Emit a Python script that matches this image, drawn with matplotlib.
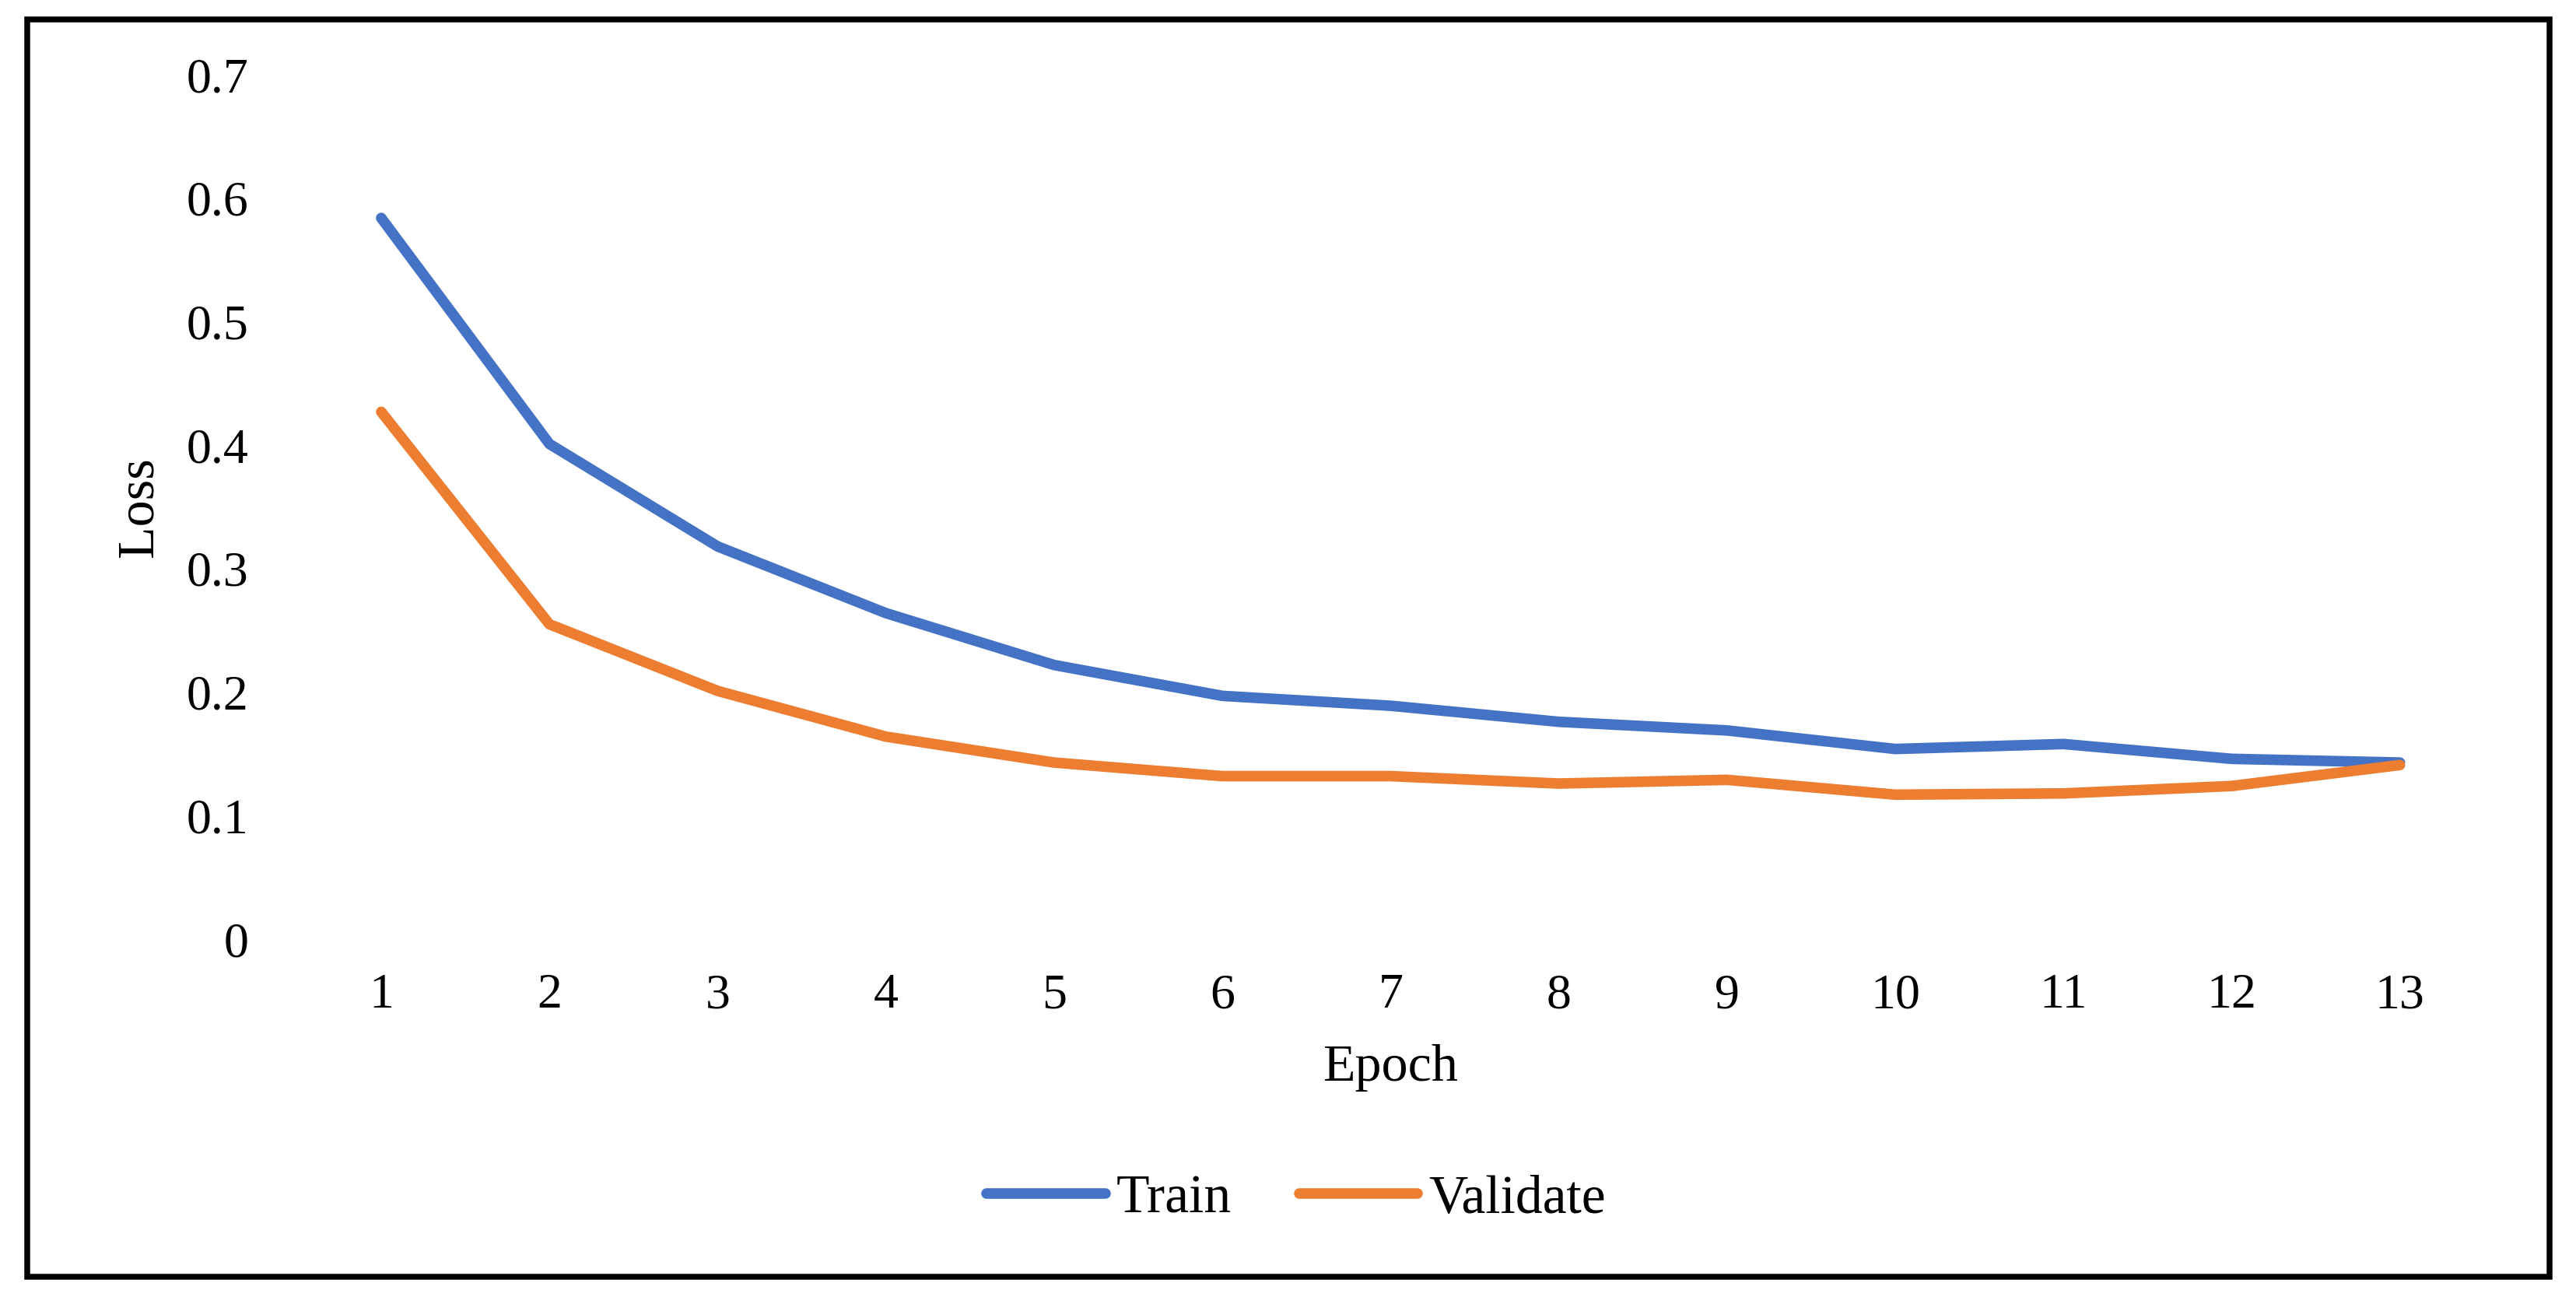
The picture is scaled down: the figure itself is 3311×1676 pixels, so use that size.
import matplotlib.pyplot as plt
from matplotlib.patches import Rectangle

# data
epochs = list(range(1, 14))
train_loss = [0.584, 0.401, 0.318, 0.264, 0.222, 0.197, 0.189, 0.176, 0.169, 0.154, 0.158, 0.146, 0.143]
val_loss = [0.427, 0.255, 0.201, 0.164, 0.143, 0.132, 0.132, 0.126, 0.129, 0.117, 0.118, 0.124, 0.141]
yticks = [0, 0.1, 0.2, 0.3, 0.4, 0.5, 0.6, 0.7]
ytick_labels = ['0', '0.1', '0.2', '0.3', '0.4', '0.5', '0.6', '0.7']

plt.rcParams['font.family'] = ['Liberation Serif', 'DejaVu Serif']

fig = plt.figure(figsize=(33.12, 16.76), dpi=100)
ax = fig.add_axes([0.1153, 0.2798, 0.8487, 0.6629])

ax.plot(epochs, train_loss, color='#4472C4', lw=9.8, label='Train',
        solid_capstyle='round', solid_joinstyle='round')
ax.plot(epochs, val_loss, color='#ED7D31', lw=9.8, label='Validate',
        solid_capstyle='round', solid_joinstyle='round')

ax.set_xlim(0.5, 13.5)
ax.set_ylim(0, 0.7)
ax.set_xticks(epochs)
ax.set_yticks(yticks)
ax.set_yticklabels(ytick_labels)
ax.tick_params(axis='both', length=0, labelsize=46, colors='black')
ax.tick_params(axis='y', pad=45)
ax.tick_params(axis='x', pad=32)
for s in ax.spines.values():
    s.set_visible(False)

ax.set_xlabel('Epoch', fontsize=49, va='center')
ax.xaxis.set_label_coords(0.5, -0.1485)
ax.set_ylabel('Loss', fontsize=49, va='center')
ax.yaxis.set_label_coords(-0.0722, 0.5)

fig.legend(loc='center', bbox_to_anchor=(0.503, 0.08), ncol=2, frameon=False,
           fontsize=50, handlelength=2.2, handletextpad=0.2, columnspacing=1.25)

# outer frame
fig.patches.append(Rectangle((0.01057, 0.02088), 0.97886, 0.9645, transform=fig.transFigure,
                             fill=False, edgecolor='black', lw=5.4))

fig.savefig('out.png', dpi=100)
